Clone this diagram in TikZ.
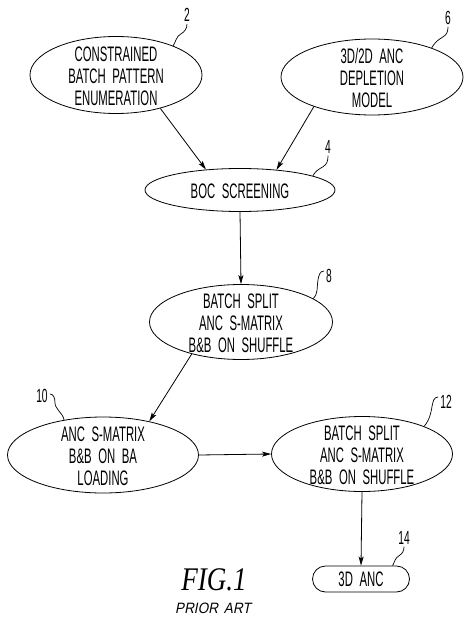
\documentclass[tikz,border=0pt]{standalone}
\usepackage{fontspec}
\setmainfont{Liberation Sans}[FakeStretch=0.54,WordSpace=2.1]
\newfontfamily\figfont{Liberation Serif}[FakeStretch=0.82]
\newfontfamily\priorfont{Liberation Sans}[FakeStretch=0.9,FakeSlant=0.2,WordSpace=1.6]
\usetikzlibrary{shapes.geometric,shapes.misc,arrows.meta,calc}
\begin{document}
\begin{tikzpicture}[x=1pt,y=-1pt,
  every node/.style={inner sep=0pt},
  oval/.style={draw,ellipse,line width=0.8pt},
  txt/.style={align=center,font=\fontsize{21}{22}\selectfont},
  num/.style={font=\fontsize{19}{20}\selectfont},
  arr/.style={line width=0.8pt,-{Stealth[length=9pt,width=5pt,inset=2pt]}},
  lead/.style={line width=0.7pt}]
\useasboundingbox (0,0) rectangle (474,620);

% nodes
\node[oval,minimum width=172pt,minimum height=77pt] (e2) at (116,75) {};
\node[txt] (t2) at (116,76) {CONSTRAINED\\BATCH PATTERN\\ENUMERATION};
\node[oval,minimum width=182pt,minimum height=76pt] (e6) at (372,77) {};
\node[txt] (t6) at (372,78) {3D/2D ANC\\DEPLETION\\MODEL};
\node[oval,minimum width=190pt,minimum height=43pt] (boc) at (240,190) {};
\node[txt] (tb) at (240,191) {BOC SCREENING};
\node[oval,minimum width=183pt,minimum height=75pt] (e8) at (241,322) {};
\node[txt] (t8) at (241,323) {BATCH SPLIT\\ANC S-MATRIX\\B\&B ON SHUFFLE};
\node[oval,minimum width=191pt,minimum height=76pt] (e10) at (103,455) {};
\node[txt] (t10) at (103,456) {ANC S-MATRIX\\B\&B ON BA\\LOADING};
\node[oval,minimum width=181pt,minimum height=75pt] (e12) at (362,454) {};
\node[txt] (t12) at (362,455) {BATCH SPLIT\\ANC S-MATRIX\\B\&B ON SHUFFLE};
\node[draw,rounded rectangle,line width=0.8pt,minimum width=97pt,minimum height=26pt,txt] (n14) at (361,579) {3D ANC};

% reference numerals
\node[num] (l2) at (187,15) {2};
\node[num] (l6) at (448,18) {6};
\node[num] (l4) at (328,147) {4};
\node[num] (l8) at (329,276) {8};
\node[num] (l10) at (42,396) {10};
\node[num] (l12) at (446,402) {12};
\node[num] (l14) at (404,538) {14};

% leaders
\draw[lead] (l2.south) ++(0,2) to[out=-90,in=30] ++(-6,10) to[out=210,in=60] (e2.27);
\draw[lead] (l6.south) ++(0,2) to[out=-90,in=30] ++(-5,10) to[out=210,in=60] (e6.26);
\draw[lead] (l4.south) ++(0,2) to[out=-90,in=30] ++(-5,11) to[out=210,in=60] (boc.11);
\draw[lead] (l8.west) ++(-2,-5) to[out=180,in=80] ++(-6,9) to[out=-100,in=45] (e8.18);
\draw[lead] (l10.east) ++(2,-2) to[out=0,in=90] ++(5,8) to[out=-90,in=100] (e10.138);
\draw[lead] (l12.west) ++(-2,-5) to[out=180,in=80] ++(-6,9) to[out=-100,in=50] (e12.24);
\draw[lead] (l14.south) ++(0,2) to[out=-90,in=30] ++(-5,9) to[out=210,in=60] (n14.23);

% connectors
\draw[arr] (e2.-37.5) -- (boc.149);
\draw[arr] (e6.207.6) -- (boc.29);
\draw[arr] (boc.south) -- (e8.north);
\draw[arr] (e8.213) -- (e10.36);
\draw[arr] (e10.east) -- (e12.west);
\draw[arr] (e12.south) -- (n14.north);

% caption
\node[font=\figfont\itshape\fontsize{33}{33}\selectfont] (fig) at (214,580) {FIG.1};
\node[font=\priorfont\fontsize{15}{15}\selectfont] (prior) at (213,608) {PRIOR ART};
\end{tikzpicture}
\end{document}
